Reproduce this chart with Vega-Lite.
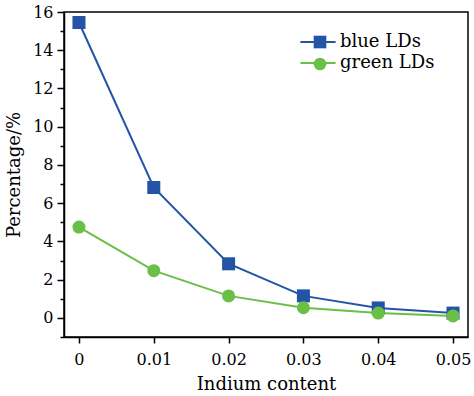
{
  "$schema": "https://vega.github.io/schema/vega-lite/v6.json",
  "width": 404,
  "height": 325,
  "autosize": {"type": "none"},
  "padding": {"left": 64, "top": 12, "right": 6, "bottom": 59},
  "background": "white",
  "config": {
    "font": "DejaVu Serif",
    "view": {"stroke": "black", "strokeWidth": 1.5},
    "axis": {
      "domainColor": "black", "domainWidth": 1.5, "tickColor": "black", "tickWidth": 1.5,
      "labelColor": "black", "titleColor": "black", "labelFont": "DejaVu Serif",
      "titleFont": "DejaVu Serif", "labelFontSize": 16, "titleFontSize": 18,
      "titleFontWeight": "normal", "grid": false
    },
    "legend": {"labelFont": "DejaVu Serif", "labelFontSize": 18, "labelColor": "black"}
  },
  "data": {
    "values": [
      {"x": 0, "y": 15.45, "series": "blue LDs", "marker": "blue LDs"},
      {"x": 0.01, "y": 6.82, "series": "blue LDs", "marker": "blue LDs"},
      {"x": 0.02, "y": 2.83, "series": "blue LDs", "marker": "blue LDs"},
      {"x": 0.03, "y": 1.15, "series": "blue LDs", "marker": "blue LDs"},
      {"x": 0.04, "y": 0.52, "series": "blue LDs", "marker": "blue LDs"},
      {"x": 0.05, "y": 0.25, "series": "blue LDs", "marker": "blue LDs"},
      {"x": 0, "y": 4.75, "series": "green LDs", "marker": "green LDs"},
      {"x": 0.01, "y": 2.47, "series": "green LDs", "marker": "green LDs"},
      {"x": 0.02, "y": 1.15, "series": "green LDs", "marker": "green LDs"},
      {"x": 0.03, "y": 0.53, "series": "green LDs", "marker": "green LDs"},
      {"x": 0.04, "y": 0.25, "series": "green LDs", "marker": "green LDs"},
      {"x": 0.05, "y": 0.1, "series": "green LDs", "marker": "green LDs"}
    ]
  },
  "encoding": {
    "x": {
      "field": "x", "type": "quantitative",
      "scale": {"domain": [-0.002, 0.052], "nice": false, "zero": false},
      "axis": {"values": [0, 0.01, 0.02, 0.03, 0.04, 0.05], "title": "Indium content", "tickSize": 6, "labelPadding": 8, "titlePadding": 8, "labelExpr": "datum.value === 0 ? '0' : format(datum.value, '.2f')"}
    },
    "y": {
      "field": "y", "type": "quantitative",
      "scale": {"domain": [-1, 16], "nice": false, "zero": false},
      "axis": {
        "values": [-1, 0, 1, 2, 3, 4, 5, 6, 7, 8, 9, 10, 11, 12, 13, 14, 15, 16],
        "labelExpr": "datum.value % 2 === 0 ? datum.label : ''",
        "tickSize": {"condition": {"test": "datum.value % 2 === 0", "value": 7}, "value": 4},
        "title": "Percentage/%", "labelPadding": 4, "titlePadding": 9
      }
    }
  },
  "layer": [
    {
      "mark": {"type": "line", "strokeWidth": 2},
      "encoding": {
        "stroke": {
          "field": "series", "type": "nominal",
          "scale": {"domain": ["blue LDs", "green LDs"], "range": ["#2454a6", "#6abf47"]},
          "legend": {"title": null, "orient": "none", "legendX": 242, "legendY": 18, "symbolType": "M-1.6,0H1.6", "symbolSize": 484, "symbolStrokeWidth": 2, "rowPadding": 0, "labelOffset": 10}
        }
      }
    },
    {
      "mark": {"type": "point", "filled": true, "opacity": 1, "size": 170},
      "encoding": {
        "fill": {
          "field": "marker", "type": "nominal",
          "scale": {"range": ["#2454a6", "#6abf47"]},
          "legend": {"title": null, "orient": "none", "legendX": 247, "legendY": 21, "symbolSize": 160, "labelExpr": "''", "rowPadding": 2, "symbolOpacity": 1}
        },
        "shape": {
          "field": "marker", "type": "nominal",
          "scale": {"range": ["square", "circle"]},
          "legend": {"title": null, "orient": "none", "legendX": 247, "legendY": 21, "symbolSize": 160, "labelExpr": "''", "rowPadding": 2, "symbolOpacity": 1}
        }
      }
    }
  ]
}
